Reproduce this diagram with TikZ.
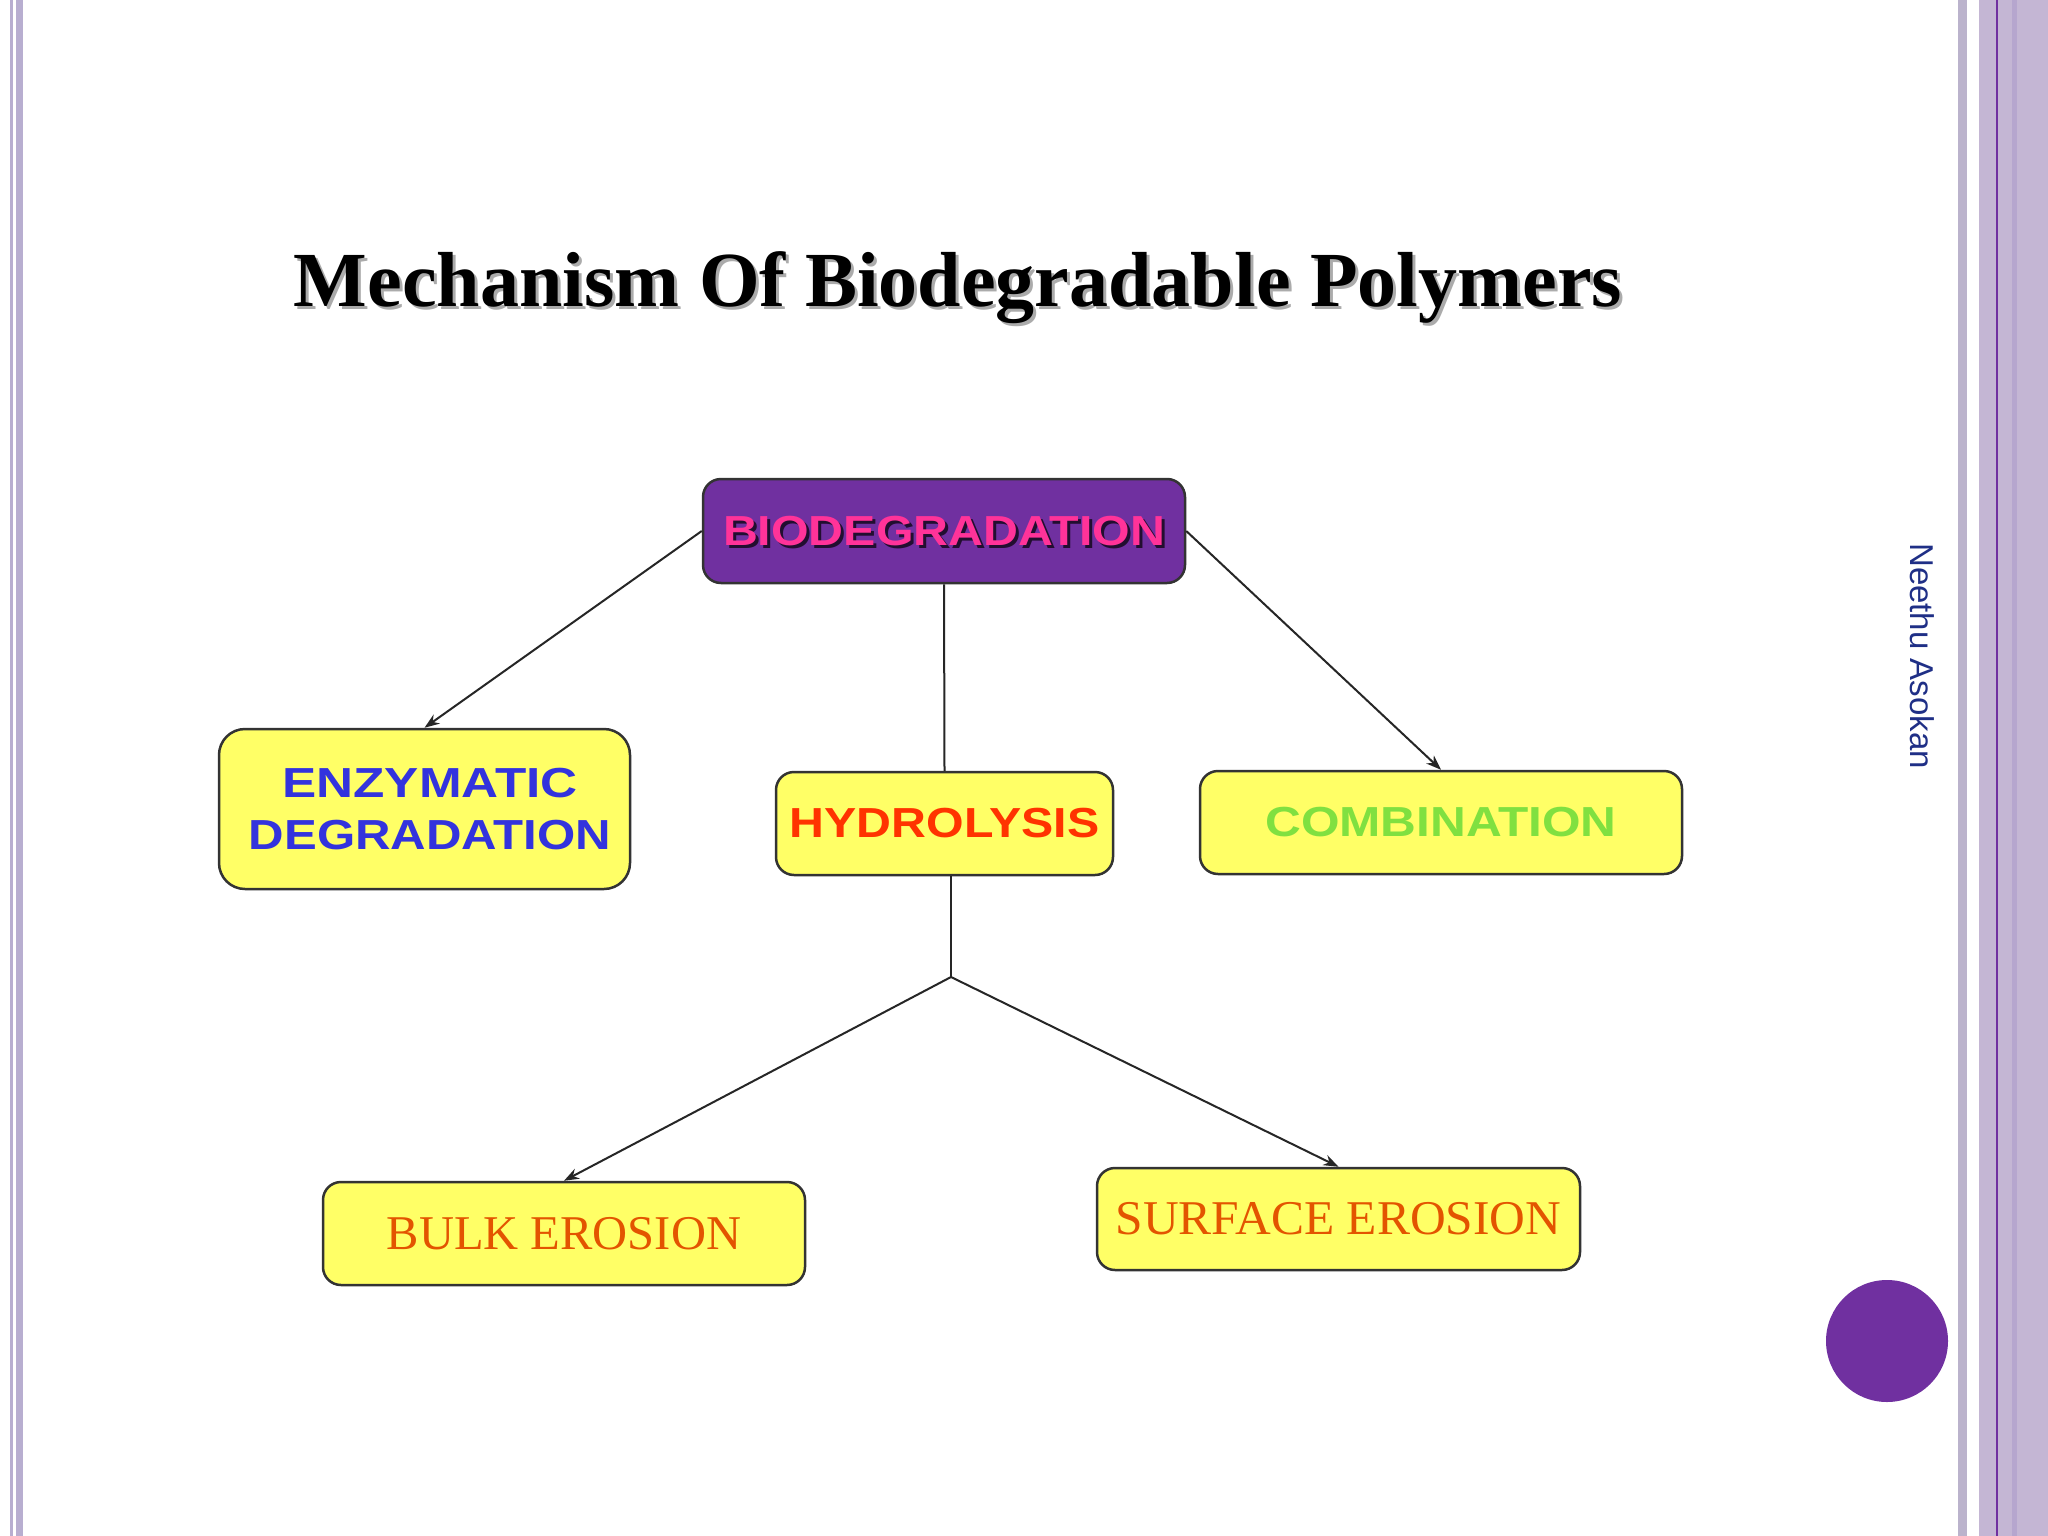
\documentclass[tikz,border=0pt]{standalone}
\usepackage{fontspec}
\setmainfont{Liberation Serif}
\newfontfamily\arialfont{Liberation Sans}
\usetikzlibrary{arrows.meta}
\definecolor{slidepurple}{HTML}{7030A0}
\definecolor{boxyellow}{HTML}{FFFF66}
\definecolor{stripegray}{HTML}{BBB3CC}
\definecolor{stripelight}{HTML}{C4B6D4}
\definecolor{stripeband}{HTML}{B6A6CE}
\definecolor{leftstripe}{HTML}{B8AED0}
\definecolor{pinktext}{HTML}{FF3399}
\definecolor{bluetext}{HTML}{3333DD}
\definecolor{redtext}{HTML}{FF3300}
\definecolor{greentext}{HTML}{80E040}
\definecolor{orangetext}{HTML}{E35400}
\definecolor{navytext}{HTML}{1F2F86}
\definecolor{shadowgray}{HTML}{ABABAB}
\begin{document}
\begin{tikzpicture}[x=1pt,y=-1pt,
  box/.style={draw=black!80, line width=2.5pt, rounded corners=18pt, fill=boxyellow, inner sep=0pt, align=center},
  bigsans/.style={font=\arialfont\bfseries\fontsize{42}{52}\selectfont},
  serifbox/.style={font=\fontsize{48.5}{56}\selectfont, text=orangetext},
  conn/.style={draw=black!85, line width=2pt},
  arr/.style={conn, -{Stealth[length=15pt,width=11pt]}}
]
\useasboundingbox (0,0) rectangle (2048,1536);
\fill[white] (0,0) rectangle (2048,1536);
% left stripes
\fill[leftstripe] (10,0) rectangle (13,1536);
\fill[leftstripe] (16,0) rectangle (23,1536);
% right stripes
\fill[stripegray] (1958,0) rectangle (1967,1536);
\fill[stripelight] (1979,0) rectangle (2048,1536);
\fill[slidepurple] (1996,0) rectangle (1998,1536);
\fill[stripeband] (2012,0) rectangle (2017,1536);
% title
\node[text=shadowgray, font=\bfseries\fontsize{78}{90}\selectfont] (titleshadow) at (961,291) {Mechanism Of Biodegradable Polymers};
\node[text=black, font=\bfseries\fontsize{78}{90}\selectfont] (title) at (958,288) {Mechanism Of Biodegradable Polymers};
% side text and circle
\node[text=navytext, rotate=-90, font=\arialfont\fontsize{33}{38}\selectfont] (author) at (1922,656) {Neethu Asokan};
\fill[slidepurple] (1887,1341) circle[radius=61];
% boxes
\node[box, fill=slidepurple, minimum width=482pt, minimum height=104pt] (bio) at (944,531) {};
\node[bigsans, text=black!70!slidepurple] (bioshadow) at (947,534) {\scalebox{1.15}[1]{BIODEGRADATION}};
\node[bigsans, text=pinktext] (biotext) at (944,531) {\scalebox{1.15}[1]{BIODEGRADATION}};
\node[box, rounded corners=26pt, minimum width=411pt, minimum height=160pt] (enz) at (424.5,809) {};
\node[bigsans, text=bluetext, align=center] (enztext) at (430,809) {\scalebox{1.22}[1]{ENZYMATIC}\\\scalebox{1.17}[1]{DEGRADATION}};
\node[box, bigsans, text=redtext, minimum width=337pt, minimum height=103pt] (hyd) at (944.5,823.5) {\scalebox{1.15}[1]{HYDROLYSIS}};
\node[box, bigsans, text=greentext, minimum width=482pt, minimum height=103pt] (comb) at (1441,822.5) {\scalebox{1.18}[1]{COMBINATION}};
\node[box, serifbox, minimum width=482pt, minimum height=103pt] (bulk) at (564,1233.5) {BULK EROSION};
\node[box, serifbox, minimum width=483pt, minimum height=102pt] (surf) at (1338.5,1219) {\scalebox{1.02}[1]{SURFACE EROSION}};
% connectors
\coordinate (junc) at (951,977);
\draw[arr] (bio.west) -- (enz.north);
\draw[conn] (bio.south) -- (hyd.north);
\draw[arr] (bio.east) -- (comb.north);
\draw[conn] (hyd.south -| junc) -- (junc);
\draw[arr] (junc) -- (bulk.north);
\draw[arr] (junc) -- (surf.north);
\end{tikzpicture}
\end{document}
